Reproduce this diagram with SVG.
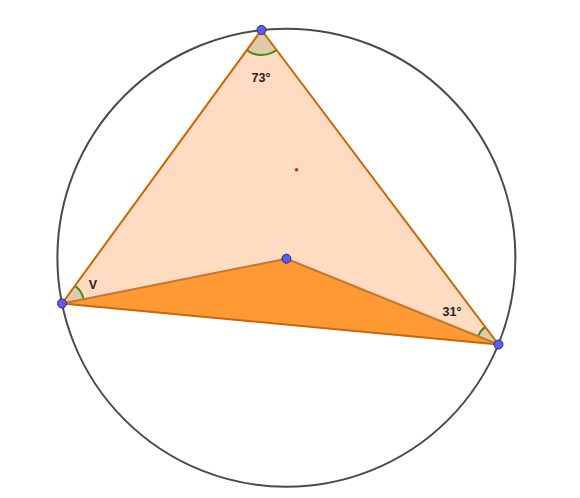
<svg xmlns="http://www.w3.org/2000/svg" width="580" height="498" viewBox="0 0 580 498">
  <style>
    .edge { stroke: #CC6600; stroke-width: 2; fill: none; stroke-linecap: round; }
    .inner { stroke: #C07838; stroke-width: 2; fill: none; stroke-linecap: round; }
    .sector { fill: #006400; fill-opacity: 0.13; stroke: none; }
    .arc { fill: none; stroke: #3C8C2C; stroke-width: 2; }
    .pt { fill: #5C5CF5; stroke: #2A2A7A; stroke-width: 1; }
    .lbl { font-family: "Liberation Sans", Arial, sans-serif; font-size: 12.5px; font-weight: bold; fill: #222; }
  </style>
  <rect width="580" height="498" fill="#ffffff"/>
  <g id="circle">
    <circle cx="286.4" cy="257.7" r="229" fill="none" stroke="#4a4a4a" stroke-width="2"/>
  </g>
  <g id="triangle-ABC">
    <polygon points="261.5,30 62,303.5 498.5,344.5" fill="#FFDBC2" stroke="none"/>
  </g>
  <g id="triangle-BDC">
    <polygon points="62,303.5 286.4,258.7 498.5,344.5" fill="#FF9933" stroke="none"/>
  </g>
  <g id="angle-A">
    <path class="sector" d="M261.5,30 L276.5,50 A25,25 0 0 1 246.8,50.2 Z"/>
    <path class="arc" d="M276.5,50 A25,25 0 0 1 246.8,50.2"/>
    <text class="lbl" x="261" y="82" text-anchor="middle">73°</text>
  </g>
  <g id="angle-B">
    <path class="sector" d="M62,303.5 L75,285.7 A22,22 0 0 1 83.6,299.1 Z"/>
    <path class="arc" d="M75,285.7 A22,22 0 0 1 83.6,299.1"/>
    <text class="lbl" x="93" y="289" text-anchor="middle">V</text>
  </g>
  <g id="angle-C">
    <path class="sector" d="M498.5,344.5 L478.1,336.2 A22,22 0 0 1 485.3,326.9 Z"/>
    <path class="arc" d="M478.1,336.2 A22,22 0 0 1 485.3,326.9"/>
    <text class="lbl" x="452" y="316" text-anchor="middle">31°</text>
  </g>
  <g id="connectors">
    <line class="inner" x1="62" y1="303.5" x2="286.4" y2="258.7"/>
    <line class="inner" x1="286.4" y1="258.7" x2="498.5" y2="344.5"/>
    <line class="edge" x1="261.5" y1="30" x2="62" y2="303.5"/>
    <line class="edge" x1="261.5" y1="30" x2="498.5" y2="344.5"/>
    <line class="edge" x1="62" y1="303.5" x2="498.5" y2="344.5"/>
  </g>
  <g id="point-A"><circle class="pt" cx="261.5" cy="30" r="4.5"/></g>
  <g id="point-B"><circle class="pt" cx="62" cy="303.5" r="4.5"/></g>
  <g id="point-C"><circle class="pt" cx="498.5" cy="344.5" r="4.5"/></g>
  <g id="point-D"><circle class="pt" cx="286.4" cy="258.7" r="4.5"/></g>
  <g id="point-O"><circle cx="296.6" cy="169.8" r="1.8" fill="#E02020"/></g>
</svg>
